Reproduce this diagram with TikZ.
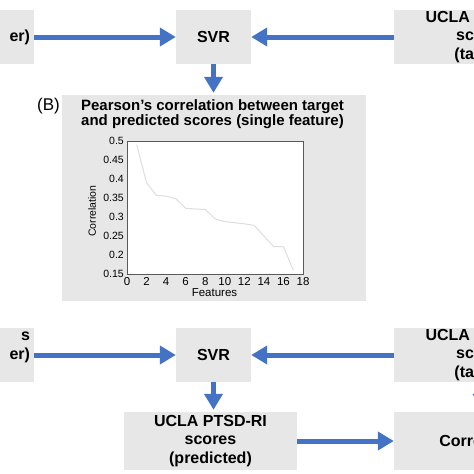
\documentclass[tikz,border=0pt]{standalone}
\usepackage{fontspec}
\setmainfont{Liberation Sans}
\usepackage{tikz}
\usetikzlibrary{arrows.meta}
\definecolor{cajagris}{RGB}{231,231,231}
\definecolor{azulflecha}{RGB}{68,114,196}
\definecolor{marco}{RGB}{90,90,90}
\definecolor{curva}{RGB}{222,222,222}
\begin{document}
\begin{tikzpicture}[x=1pt,y=-1pt,
  caja/.style={fill=cajagris, minimum height=54pt, inner sep=0pt,
               font=\fontsize{16}{18.5}\selectfont\bfseries, align=center},
  flechaazul/.style={-{Triangle[width=18pt,length=16pt]}, line width=5pt,
               azulflecha},
  eje/.style={font=\fontsize{10.5}{12}\selectfont, inner sep=0pt}]
  \useasboundingbox (0,0) rectangle (474,474);
  \clip (0,0) rectangle (474,474);
  % fila superior
  \node[caja, minimum width=120pt, text width=112pt, align=right] (fea) at (-26,37) {er)};
  \node[caja, minimum width=75pt]  (svt) at (213.5,37) {SVR};
  \node[caja, minimum width=176pt] (tgt) at (482,37) {UCLA PTSD-RI\\scores\\(target)};
  % panel (B)
  \node[fill=cajagris, minimum width=304pt, minimum height=206pt, inner sep=0pt] (pan) at (214,198) {};
  \node[font=\fontsize{17}{18}\selectfont] (lab) at (48.5,106) {(B)};
  \node[font=\fontsize{15}{14.5}\selectfont\bfseries, align=center] (tit) at (212.5,114)
     {Pearson’s correlation between target\\and predicted scores (single feature)};
  \begin{scope}[shift={(127,331)}, x=9.78pt, y=380pt]
    \draw[marco, line width=0.8pt, fill=white] (0,0.15) rectangle (18,0.5);
    \draw[curva, line width=1pt, line join=round]
      plot coordinates {(1,0.49) (2,0.39) (3,0.357) (4,0.355) (5,0.348) (6,0.323)
        (7,0.321) (8,0.32) (9,0.295) (10,0.288) (11,0.285) (12,0.282) (13,0.278)
        (14,0.25) (15,0.222) (16,0.222) (17,0.16)};
    \foreach \v [count=\i] in {0.5,0.45,0.4,0.35,0.3,0.25,0.2,0.15}
      \node[eje, anchor=east, xshift=-3pt] (yt\i) at (0,\v) {\v};
    \foreach \k in {0,2,...,18}
      \node[eje, font=\fontsize{11.5}{12}\selectfont, anchor=north, yshift=-3pt] (xt\k) at (\k,0.15) {\k};
  \end{scope}
  \node[eje, font=\fontsize{11.5}{12}\selectfont] (xla) at (214.5,293) {Features};
  \node[eje, rotate=90] (yla) at (92,211) {Correlation};
  % fila inferior
  \node[caja, minimum width=120pt, text width=112pt, align=right] (feb) at (-26,355)
     {s\hspace*{25pt}\\er)\\\mbox{}};
  \node[caja, minimum width=75pt]  (svb) at (213.5,355) {SVR};
  \node[caja, minimum width=176pt] (tgb) at (482,355) {UCLA PTSD-RI\\scores\\(target)};
  \node[caja, minimum width=173pt, minimum height=58pt] (pre) at (210.5,441) {UCLA PTSD-RI\\scores\\(predicted)};
  \node[caja, minimum width=176pt, minimum height=58pt] (cor) at (482,441) {Correlation};
  % flechas
  \draw[flechaazul] (fea) -- (svt);
  \draw[flechaazul] (tgt) -- (svt);
  \draw[flechaazul, shorten >=2pt] (svt.south) -- (svt.south |- pan.north);
  \draw[flechaazul] (feb) -- (svb);
  \draw[flechaazul] (tgb) -- (svb);
  \draw[flechaazul, shorten >=2pt] (svb.south) -- (svb.south |- pre.north);
  \draw[flechaazul] (pre) -- (cor);
  \draw[flechaazul, shorten >=2pt] (tgb) -- (cor);
\end{tikzpicture}
\end{document}
